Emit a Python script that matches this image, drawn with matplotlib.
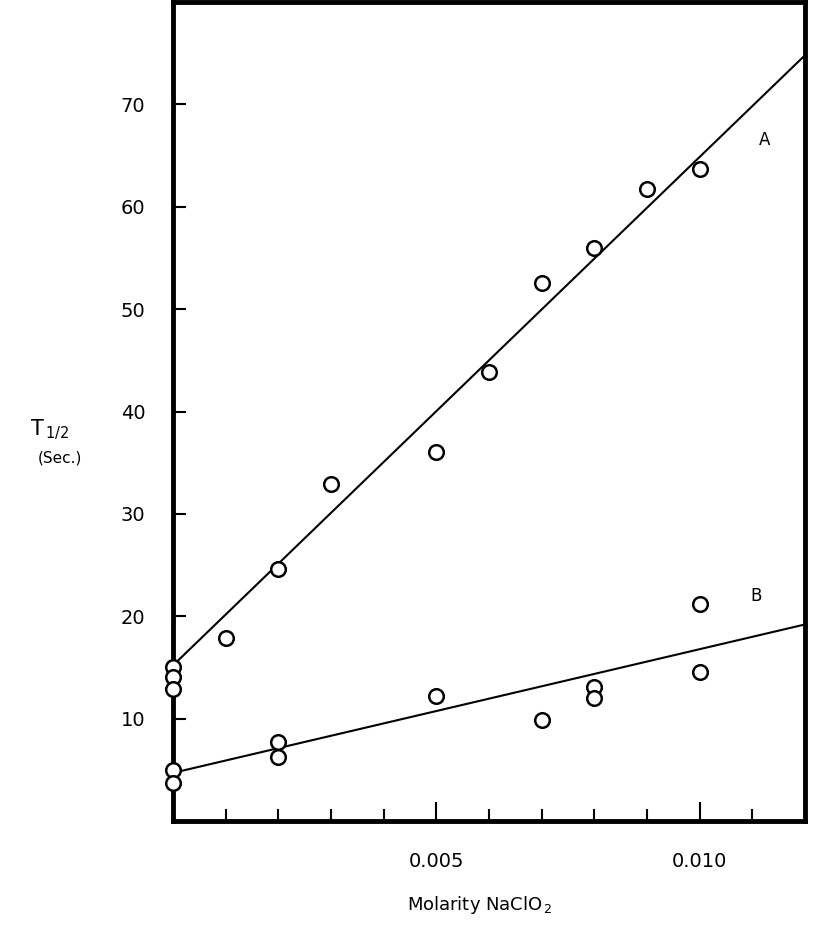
import numpy as np
import matplotlib
matplotlib.use('Agg')
import matplotlib.pyplot as plt
from matplotlib.ticker import MultipleLocator

# ── Data ──────────────────────────────────────────────────────────
a_x = [0.0, 0.0, 0.0, 0.001, 0.002, 0.003, 0.005, 0.006, 0.007, 0.008, 0.009, 0.010]
a_y = [15.0, 14.1, 12.9, 17.9, 24.6, 32.9, 36.0, 43.9, 52.6, 56.0, 61.7, 63.7]

b_x = [0.0, 0.0, 0.002, 0.002, 0.005, 0.007, 0.008, 0.008, 0.010, 0.010]
b_y = [5.0, 3.7, 7.7, 6.3, 12.2, 9.9, 13.1, 12.0, 21.2, 14.6]

# fitted lines (end points)
line_a_x = [0.0, 0.012]
line_a_y = [15.2, 74.8]
line_b_x = [0.0, 0.012]
line_b_y = [4.7, 19.2]

y_ticks = [10, 20, 30, 40, 50, 60, 70]
x_ticks = [0.005, 0.010]
x_tick_labels = ['0.005', '0.010']

plt.rcParams['font.family'] = 'DejaVu Sans'

fig = plt.figure(figsize=(8.26, 9.33), dpi=100)
ax = fig.add_axes([173 / 826, 1 - 821 / 933, 632 / 826, 819 / 933])

ax.plot(line_a_x, line_a_y, color='black', linewidth=1.5)
ax.plot(line_b_x, line_b_y, color='black', linewidth=1.5)
ax.plot(a_x, a_y, 'o', markersize=10.5, markerfacecolor='white',
        markeredgecolor='black', markeredgewidth=1.8, clip_on=False, zorder=5)
ax.plot(b_x, b_y, 'o', markersize=10.5, markerfacecolor='white',
        markeredgecolor='black', markeredgewidth=1.8, clip_on=False, zorder=5)

ax.text(0.01124, 66.5, 'A', fontsize=12, ha='center', va='center')
ax.text(0.01108, 22.0, 'B', fontsize=12, ha='center', va='center')

ax.set_xlim(0, 0.012)
ax.set_ylim(0, 80)

ax.set_yticks(y_ticks)
ax.set_xticks(x_ticks)
ax.set_xticklabels(x_tick_labels)
ax.xaxis.set_minor_locator(MultipleLocator(0.001))
ax.tick_params(axis='both', which='major', direction='in', length=9, width=1.5,
               labelsize=14)
ax.tick_params(axis='x', which='major', length=14, pad=22)
ax.tick_params(axis='y', which='major', pad=20)
ax.tick_params(axis='x', which='minor', direction='in', length=9, width=1.5)

for sp in ax.spines.values():
    sp.set_linewidth(3.5)

fig.text(30 / 826, 1 - 430 / 933, r'T$_{\,1/2}$', fontsize=15, ha='left', va='center')
fig.text(60 / 826, 1 - 458 / 933, '(Sec.)', fontsize=11, ha='center', va='center')
fig.text(480 / 826, 1 - 905 / 933, r'Molarity NaClO$_{\,2}$', fontsize=13,
         ha='center', va='center')

plt.savefig('out.png', dpi=100)
plt.close()
